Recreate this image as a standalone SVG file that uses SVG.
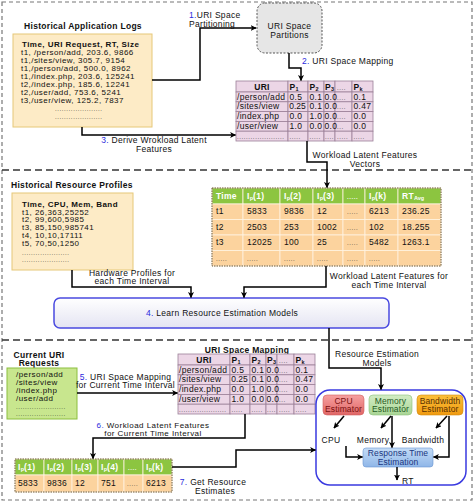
<svg xmlns="http://www.w3.org/2000/svg" width="474" height="504" viewBox="0 0 474 504">
<defs>
<marker id="ah" viewBox="0 0 10 10" refX="9" refY="5" markerWidth="6" markerHeight="6" orient="auto" markerUnits="userSpaceOnUse">
<path d="M0,0 L10,5 L0,10 L2.5,5 z" fill="#000"/>
</marker>
<linearGradient id="g4" x1="0" y1="0" x2="0" y2="1"><stop offset="0" stop-color="#ffffff"/><stop offset="1" stop-color="#e4e4f2"/></linearGradient>
<linearGradient id="gcpu" x1="0" y1="0" x2="0" y2="1"><stop offset="0" stop-color="#f6a0a0"/><stop offset="1" stop-color="#e06666"/></linearGradient>
<linearGradient id="gmem" x1="0" y1="0" x2="0" y2="1"><stop offset="0" stop-color="#d2ecc4"/><stop offset="1" stop-color="#a9d595"/></linearGradient>
<linearGradient id="gbw" x1="0" y1="0" x2="0" y2="1"><stop offset="0" stop-color="#fbbf3a"/><stop offset="1" stop-color="#f09a10"/></linearGradient>
<linearGradient id="grt" x1="0" y1="0" x2="0" y2="1"><stop offset="0" stop-color="#c4dcf6"/><stop offset="1" stop-color="#8fb6e8"/></linearGradient>
</defs>
<style>
text{font-family:"Liberation Sans",Arial,sans-serif;font-size:8.5px;letter-spacing:0.3px;fill:#111}
.bx{font-size:8px;letter-spacing:0.45px}
.d{font-size:6px;letter-spacing:0.6px}
.b{font-weight:bold}
.m{text-anchor:middle}
.n{fill:#2b2bdd}
.s{font-size:5.5px;letter-spacing:0}
.con path{fill:none;stroke:#000;stroke-width:1.5}
.arr{marker-end:url(#ah)}
.logbox{fill:#fdebc6;stroke:#e6c878;stroke-width:1}
.urit rect{fill:#ecd6e6;stroke:#9c8098;stroke-width:0.8}
.gh{fill:#8cc540;stroke:#fff3e0;stroke-width:0.8}
.gd{fill:#fcd39e;stroke:#fff3e0;stroke-width:0.8}
.wt{fill:#fff;font-weight:bold}
.div{stroke:#333;stroke-width:1.5;stroke-dasharray:7,4}
</style>

<!-- outer frame -->
<rect x="2" y="2" width="470" height="498" fill="none" stroke="#777" stroke-width="1.2" stroke-dasharray="4,3"/>
<line class="div" x1="2" y1="170" x2="472" y2="170"/>
<line class="div" x1="2" y1="340" x2="472" y2="340"/>

<!-- Section 1 -->
<g id="logs">
<text class="b m" x="83" y="29">Historical Application Logs</text>
<rect class="logbox" x="13" y="34" width="139" height="93"/>
<text class="b bx" x="22" y="46.5">Time, URI Request, RT, Size</text>
<text class="bx" x="21" y="54.5">t1, /person/add,  203.6,  9866</text>
<text class="bx" x="21" y="62.5">t1,/sites/view,  305.7,  9154</text>
<text class="bx" x="21" y="70.5">t1,/person/add,  500.0,  8962</text>
<text class="bx" x="21" y="78.5">t1,/index.php,  203.6,  125241</text>
<text class="bx" x="21" y="86.5">t2,/index.php, 185.6,  12241</text>
<text class="bx" x="21" y="94.5">t2,/user/add,  753.6,  5241</text>
<text class="bx" x="21" y="102.5">t3,/user/view,  125.2,  7837</text>
<text class="d" x="55" y="111">.....................</text>
<text class="d" x="55" y="119">.....................</text>
</g>

<g id="partitions">
<rect x="257" y="3" width="65" height="50" rx="8" fill="#e6e6e6" stroke="#555" stroke-width="1" stroke-dasharray="2,1.5"/>
<text class="m" x="289.5" y="28.5">URI Space</text>
<text class="m" x="289.5" y="37.5">Partitions</text>
</g>

<g id="uri-table-1" class="urit">
<rect x="236" y="81" width="52" height="11"/><rect x="288" y="81" width="20" height="11"/><rect x="308" y="81" width="16" height="11"/><rect x="324" y="81" width="11" height="11"/><rect x="335" y="81" width="17" height="11"/><rect x="352" y="81" width="21" height="11"/>
<rect x="236" y="92" width="52" height="9.8"/><rect x="288" y="92" width="20" height="9.8"/><rect x="308" y="92" width="16" height="9.8"/><rect x="324" y="92" width="11" height="9.8"/><rect x="335" y="92" width="17" height="9.8"/><rect x="352" y="92" width="21" height="9.8"/>
<rect x="236" y="101.8" width="52" height="9.8"/><rect x="288" y="101.8" width="20" height="9.8"/><rect x="308" y="101.8" width="16" height="9.8"/><rect x="324" y="101.8" width="11" height="9.8"/><rect x="335" y="101.8" width="17" height="9.8"/><rect x="352" y="101.8" width="21" height="9.8"/>
<rect x="236" y="111.6" width="52" height="9.8"/><rect x="288" y="111.6" width="20" height="9.8"/><rect x="308" y="111.6" width="16" height="9.8"/><rect x="324" y="111.6" width="11" height="9.8"/><rect x="335" y="111.6" width="17" height="9.8"/><rect x="352" y="111.6" width="21" height="9.8"/>
<rect x="236" y="121.4" width="52" height="9.8"/><rect x="288" y="121.4" width="20" height="9.8"/><rect x="308" y="121.4" width="16" height="9.8"/><rect x="324" y="121.4" width="11" height="9.8"/><rect x="335" y="121.4" width="17" height="9.8"/><rect x="352" y="121.4" width="21" height="9.8"/>
<rect x="236" y="131.2" width="52" height="9.8"/><rect x="288" y="131.2" width="20" height="9.8"/><rect x="308" y="131.2" width="16" height="9.8"/><rect x="324" y="131.2" width="11" height="9.8"/><rect x="335" y="131.2" width="17" height="9.8"/><rect x="352" y="131.2" width="21" height="9.8"/>
<text class="b m" x="262" y="89.5">URI</text>
<text class="b" x="289.5" y="89.5">P<tspan class="s" dy="1.5">1</tspan></text>
<text class="b" x="309.5" y="89.5">P<tspan class="s" dy="1.5">2</tspan></text>
<text class="b" x="325" y="89.5">P<tspan class="s" dy="1.5">3</tspan></text>
<text class="d" x="337" y="89.5">....</text>
<text class="b" x="353.5" y="89.5">P<tspan class="s" dy="1.5">k</tspan></text>
<text x="237" y="99.5">/person/add</text><text x="289.5" y="99.5">0.5</text><text x="309.5" y="99.5">0.1</text><text x="324.5" y="99.5">0.0</text><text class="d" x="337" y="99.5">....</text><text x="353.5" y="99.5">0.1</text>
<text x="237" y="109.3">/sites/view</text><text x="289.2" y="109.3" style="letter-spacing:0">0.25</text><text x="309.5" y="109.3">0.1</text><text x="324.5" y="109.3">0.0</text><text class="d" x="337" y="109.3">....</text><text x="353.5" y="109.3">0.47</text>
<text x="237" y="119.1">/index.php</text><text x="289.5" y="119.1">0.0</text><text x="309.5" y="119.1">1.0</text><text x="324.5" y="119.1">0.0</text><text class="d" x="337" y="119.1">....</text><text x="353.5" y="119.1">0.0</text>
<text x="237" y="128.9">/user/view</text><text x="289.5" y="128.9">1.0</text><text x="309.5" y="128.9">0.0</text><text x="324.5" y="128.9">0.0</text><text class="d" x="337" y="128.9">...</text><text x="353.5" y="128.9">0.0</text>
<text class="d" x="237" y="138.5">.....................</text><text class="d" x="289.5" y="138.5">.....</text><text class="d" x="309.5" y="138.5">.....</text><text class="d" x="325" y="138.5">....</text><text class="d" x="337" y="138.5">.....</text><text class="d" x="353.5" y="138.5">.....</text>
</g>

<!-- Section 2 -->
<g id="resource-profiles">
<text class="b" x="11" y="188">Historical Resource Profiles</text>
<rect class="logbox" x="12" y="193" width="121" height="77"/>
<text class="b bx" x="22" y="206.5">Time, CPU, Mem, Band</text>
<text class="bx" x="22" y="214.5">t1, 26,363,25252</text>
<text class="bx" x="22" y="222.3">t2, 99,600,5985</text>
<text class="bx" x="22" y="230.1">t3, 85,150,985741</text>
<text class="bx" x="22" y="237.9">t4, 10,10,17111</text>
<text class="bx" x="22" y="245.7">t5, 70,50,1250</text>
<text class="d" x="22" y="254.5">.....................</text>
<text class="d" x="22" y="262">.....................</text>
</g>

<g id="time-table">
<rect class="gh" x="212" y="188" width="31" height="16"/><rect class="gh" x="243" y="188" width="37" height="16"/><rect class="gh" x="280" y="188" width="33" height="16"/><rect class="gh" x="313" y="188" width="30" height="16"/><rect class="gh" x="343" y="188" width="22" height="16"/><rect class="gh" x="365" y="188" width="33" height="16"/><rect class="gh" x="398" y="188" width="43" height="16"/>
<rect class="gd" x="212" y="204" width="31" height="15.5"/><rect class="gd" x="243" y="204" width="37" height="15.5"/><rect class="gd" x="280" y="204" width="33" height="15.5"/><rect class="gd" x="313" y="204" width="30" height="15.5"/><rect class="gd" x="343" y="204" width="22" height="15.5"/><rect class="gd" x="365" y="204" width="33" height="15.5"/><rect class="gd" x="398" y="204" width="43" height="15.5"/>
<rect class="gd" x="212" y="219.5" width="31" height="15.5"/><rect class="gd" x="243" y="219.5" width="37" height="15.5"/><rect class="gd" x="280" y="219.5" width="33" height="15.5"/><rect class="gd" x="313" y="219.5" width="30" height="15.5"/><rect class="gd" x="343" y="219.5" width="22" height="15.5"/><rect class="gd" x="365" y="219.5" width="33" height="15.5"/><rect class="gd" x="398" y="219.5" width="43" height="15.5"/>
<rect class="gd" x="212" y="235" width="31" height="15.5"/><rect class="gd" x="243" y="235" width="37" height="15.5"/><rect class="gd" x="280" y="235" width="33" height="15.5"/><rect class="gd" x="313" y="235" width="30" height="15.5"/><rect class="gd" x="343" y="235" width="22" height="15.5"/><rect class="gd" x="365" y="235" width="33" height="15.5"/><rect class="gd" x="398" y="235" width="43" height="15.5"/>
<rect class="gd" x="212" y="250.5" width="31" height="15.5"/><rect class="gd" x="243" y="250.5" width="37" height="15.5"/><rect class="gd" x="280" y="250.5" width="33" height="15.5"/><rect class="gd" x="313" y="250.5" width="30" height="15.5"/><rect class="gd" x="343" y="250.5" width="22" height="15.5"/><rect class="gd" x="365" y="250.5" width="33" height="15.5"/><rect class="gd" x="398" y="250.5" width="43" height="15.5"/>
<rect x="212" y="188" width="229" height="78" fill="none" stroke="#6b5a3a" stroke-width="1" stroke-dasharray="1.5,1"/>
<text class="wt" x="216" y="198.5">Time</text>
<text class="wt" x="247" y="198.5">I<tspan class="s" dy="1.5">p</tspan><tspan dy="-1.5">(1)</tspan></text>
<text class="wt" x="284" y="198.5">I<tspan class="s" dy="1.5">p</tspan><tspan dy="-1.5">(2)</tspan></text>
<text class="wt" x="317" y="198.5">I<tspan class="s" dy="1.5">p</tspan><tspan dy="-1.5">(3)</tspan></text>
<text class="wt d" x="347" y="198.5">.....</text>
<text class="wt" x="369" y="198.5">I<tspan class="s" dy="1.5">p</tspan><tspan dy="-1.5">(k)</tspan></text>
<text class="wt" x="402" y="198.5">RT<tspan class="s" dy="1.5">Avg</tspan></text>
<text x="216" y="214.3">t1</text><text x="247" y="214.3">5833</text><text x="284" y="214.3">9836</text><text x="317" y="214.3">12</text><text class="d" x="347" y="214.3">.....</text><text x="369" y="214.3">6213</text><text x="402" y="214.3">236.25</text>
<text x="216" y="229.8">t2</text><text x="247" y="229.8">2503</text><text x="284" y="229.8">253</text><text x="317" y="229.8">1002</text><text class="d" x="347" y="229.8">.....</text><text x="369" y="229.8">102</text><text x="402" y="229.8">18.255</text>
<text x="216" y="245.3">t3</text><text x="247" y="245.3">12025</text><text x="284" y="245.3">100</text><text x="317" y="245.3">25</text><text class="d" x="347" y="245.3">.....</text><text x="369" y="245.3">5482</text><text x="402" y="245.3">1263.1</text>
<text class="d" x="216" y="260.8">.....</text><text class="d" x="247" y="260.8">.....</text><text class="d" x="284" y="260.8">.....</text><text class="d" x="317" y="260.8">.....</text><text class="d" x="347" y="260.8">.....</text><text class="d" x="369" y="260.8">.....</text>
</g>

<g id="learn-models">
<rect x="54" y="298" width="335" height="30" rx="6" fill="url(#g4)" stroke="#4a4ae0" stroke-width="1.5"/>
<text class="m" x="222" y="316"><tspan class="n">4.</tspan> Learn Resource Estimation Models</text>
</g>

<!-- Section 3 -->
<g id="current-uri">
<text class="b m" x="39" y="357.5">Current URI</text>
<text class="b m" x="39" y="366">Requests</text>
<rect x="7" y="368" width="70" height="51" fill="#c8e68e" stroke="#8cbf3f" stroke-width="1"/>
<text class="bx" x="16" y="376.5">/person/add</text>
<text class="bx" x="16" y="384.5">/sites/view</text>
<text class="bx" x="16" y="392.5">/index.php</text>
<text class="bx" x="16" y="400.5">/user/add</text>
<text class="d" x="16" y="409">......................</text>
<text class="d" x="16" y="416">......................</text>
</g>

<g id="uri-table-2" class="urit">
<text class="b m" x="247" y="352.5">URI Space Mapping</text>
<rect x="178" y="354" width="52" height="11"/><rect x="230" y="354" width="20" height="11"/><rect x="250" y="354" width="16" height="11"/><rect x="266" y="354" width="11" height="11"/><rect x="277" y="354" width="17" height="11"/><rect x="294" y="354" width="21" height="11"/>
<rect x="178" y="365" width="52" height="9.8"/><rect x="230" y="365" width="20" height="9.8"/><rect x="250" y="365" width="16" height="9.8"/><rect x="266" y="365" width="11" height="9.8"/><rect x="277" y="365" width="17" height="9.8"/><rect x="294" y="365" width="21" height="9.8"/>
<rect x="178" y="374.8" width="52" height="9.8"/><rect x="230" y="374.8" width="20" height="9.8"/><rect x="250" y="374.8" width="16" height="9.8"/><rect x="266" y="374.8" width="11" height="9.8"/><rect x="277" y="374.8" width="17" height="9.8"/><rect x="294" y="374.8" width="21" height="9.8"/>
<rect x="178" y="384.6" width="52" height="9.8"/><rect x="230" y="384.6" width="20" height="9.8"/><rect x="250" y="384.6" width="16" height="9.8"/><rect x="266" y="384.6" width="11" height="9.8"/><rect x="277" y="384.6" width="17" height="9.8"/><rect x="294" y="384.6" width="21" height="9.8"/>
<rect x="178" y="394.4" width="52" height="9.8"/><rect x="230" y="394.4" width="20" height="9.8"/><rect x="250" y="394.4" width="16" height="9.8"/><rect x="266" y="394.4" width="11" height="9.8"/><rect x="277" y="394.4" width="17" height="9.8"/><rect x="294" y="394.4" width="21" height="9.8"/>
<rect x="178" y="404.2" width="52" height="9.8"/><rect x="230" y="404.2" width="20" height="9.8"/><rect x="250" y="404.2" width="16" height="9.8"/><rect x="266" y="404.2" width="11" height="9.8"/><rect x="277" y="404.2" width="17" height="9.8"/><rect x="294" y="404.2" width="21" height="9.8"/>
<text class="b m" x="204" y="362.5">URI</text>
<text class="b" x="231.5" y="362.5">P<tspan class="s" dy="1.5">1</tspan></text>
<text class="b" x="251.5" y="362.5">P<tspan class="s" dy="1.5">2</tspan></text>
<text class="b" x="267" y="362.5">P<tspan class="s" dy="1.5">3</tspan></text>
<text class="d" x="279" y="362.5">....</text>
<text class="b" x="295.5" y="362.5">P<tspan class="s" dy="1.5">k</tspan></text>
<text x="179" y="372.5">/person/add</text><text x="231.5" y="372.5">0.5</text><text x="251.5" y="372.5">0.1</text><text x="266.5" y="372.5">0.0</text><text class="d" x="279" y="372.5">....</text><text x="295.5" y="372.5">0.1</text>
<text x="179" y="382.3">/sites/view</text><text x="231.2" y="382.3" style="letter-spacing:0">0.25</text><text x="251.5" y="382.3">0.1</text><text x="266.5" y="382.3">0.0</text><text class="d" x="279" y="382.3">....</text><text x="295.5" y="382.3">0.47</text>
<text x="179" y="392.1">/index.php</text><text x="231.5" y="392.1">0.0</text><text x="251.5" y="392.1">1.0</text><text x="266.5" y="392.1">0.0</text><text class="d" x="279" y="392.1">....</text><text x="295.5" y="392.1">0.0</text>
<text x="179" y="401.9">/user/view</text><text x="231.5" y="401.9">1.0</text><text x="251.5" y="401.9">0.0</text><text x="266.5" y="401.9">0.0</text><text class="d" x="279" y="401.9">...</text><text x="295.5" y="401.9">0.0</text>
<text class="d" x="179" y="411.5">.....................</text><text class="d" x="231.5" y="411.5">.....</text><text class="d" x="251.5" y="411.5">.....</text><text class="d" x="267" y="411.5">....</text><text class="d" x="279" y="411.5">.....</text><text class="d" x="295.5" y="411.5">.....</text>
</g>

<g id="current-features">
<rect class="gh" x="15" y="459" width="29" height="16"/><rect class="gh" x="44" y="459" width="28" height="16"/><rect class="gh" x="72" y="459" width="26" height="16"/><rect class="gh" x="98" y="459" width="26" height="16"/><rect class="gh" x="124" y="459" width="19" height="16"/><rect class="gh" x="143" y="459" width="29" height="16"/>
<rect class="gd" x="15" y="475" width="29" height="17"/><rect class="gd" x="44" y="475" width="28" height="17"/><rect class="gd" x="72" y="475" width="26" height="17"/><rect class="gd" x="98" y="475" width="26" height="17"/><rect class="gd" x="124" y="475" width="19" height="17"/><rect class="gd" x="143" y="475" width="29" height="17"/>
<rect x="15" y="459" width="157" height="33" fill="none" stroke="#6b5a3a" stroke-width="1" stroke-dasharray="1.5,1"/>
<text class="wt" x="18" y="469.5">I<tspan class="s" dy="1.5">p</tspan><tspan dy="-1.5">(1)</tspan></text>
<text class="wt" x="47" y="469.5">I<tspan class="s" dy="1.5">p</tspan><tspan dy="-1.5">(2)</tspan></text>
<text class="wt" x="75" y="469.5">I<tspan class="s" dy="1.5">p</tspan><tspan dy="-1.5">(3)</tspan></text>
<text class="wt" x="101" y="469.5">I<tspan class="s" dy="1.5">p</tspan><tspan dy="-1.5">(4)</tspan></text>
<text class="wt d" x="128" y="469.5">....</text>
<text class="wt" x="146" y="469.5">I<tspan class="s" dy="1.5">p</tspan><tspan dy="-1.5">(k)</tspan></text>
<text x="18" y="486">5833</text><text x="47" y="486">9836</text><text x="75" y="486">12</text><text x="101" y="486">751</text><text class="d" x="127" y="486">.....</text><text x="146" y="486">6213</text>
</g>

<g id="estimators">
<rect x="316" y="390" width="150" height="95" rx="14" fill="#fff" stroke="#3a3ae0" stroke-width="1.5"/>
<rect x="323" y="395" width="41" height="20" rx="4" fill="url(#gcpu)" stroke="#d06060" stroke-width="0.6"/>
<text class="m" x="343.5" y="403.5" style="fill:#7a1010;letter-spacing:0.1px">CPU</text>
<text class="m" x="343.5" y="412" style="fill:#7a1010;letter-spacing:0.1px">Estimator</text>
<rect x="369" y="395" width="43" height="20" rx="4" fill="url(#gmem)" stroke="#8cbf7a" stroke-width="0.6"/>
<text class="m" x="390.5" y="403.5" style="fill:#245a24;letter-spacing:0.1px">Memory</text>
<text class="m" x="390.5" y="412" style="fill:#245a24;letter-spacing:0.1px">Estimator</text>
<rect x="417" y="395" width="46" height="20" rx="4" fill="url(#gbw)" stroke="#d08a10" stroke-width="0.6"/>
<text class="m" x="440" y="403.5" style="fill:#5a3000;letter-spacing:0.1px">Bandwidth</text>
<text class="m" x="440" y="412" style="fill:#5a3000;letter-spacing:0.1px">Estimator</text>
<text class="m" x="331" y="442.5">CPU</text>
<text class="m" x="373" y="442.5">Memory</text>
<text class="m" x="423" y="442.5">Bandwidth</text>
<rect x="363" y="448" width="70" height="19" rx="3" fill="url(#grt)" stroke="#6a96d0" stroke-width="0.6"/>
<text class="m" x="398" y="456" style="fill:#1a3680;letter-spacing:0.1px">Response Time</text>
<text class="m" x="398" y="464.5" style="fill:#1a3680;letter-spacing:0.1px">Estimation</text>
<text x="402" y="484">RT</text>
</g>

<g id="connectors" class="con">
<path class="arr" d="M152,80 H200 V28 H256"/>
<path class="arr" d="M289,53 V68 H301 V80.5"/>
<path class="arr" d="M82,127 V135 H235.5"/>
<path class="arr" d="M307,141 V162 H327 V187.5"/>
<path class="arr" d="M72,270 V287 H191 V297.5"/>
<path class="arr" d="M326,266 V287 H244 V297.5"/>
<path class="arr" d="M329,328 V368 H381 V389.5"/>
<path class="arr" d="M77,393 H177.5"/>
<path class="arr" d="M245,414 V438 H93 V458.5"/>
<path class="arr" d="M172,467 H236 V450 H315.5"/>
<path class="arr" d="M344,416 L334,428"/>
<path class="arr" d="M391,416 L381,428"/>
<path class="arr" d="M447,416 L436,428"/>
<path class="arr" d="M392,416 V447.5"/>
<path class="arr" d="M346,446 V457 H362.5"/>
<path class="arr" d="M449,416 V457 H433.5"/>
<path class="arr" d="M397,467 V480"/>
</g>

<g id="labels">
<text x="189" y="18"><tspan class="n">1.</tspan>URI Space</text>
<text x="189" y="27">Partitioning</text>
<text x="302" y="64"><tspan class="n">2.</tspan> URI Space Mapping</text>
<text class="m" x="154" y="143"><tspan class="n">3.</tspan> Derive Wrokload Latent</text>
<text class="m" x="154" y="151.5">Features</text>
<text class="m" x="365" y="158">Workload Latent Features</text>
<text class="m" x="365" y="166.5">Vectors</text>
<text class="m" x="132" y="275.5">Hardware Profiles for</text>
<text class="m" x="132" y="284">each Time Interval</text>
<text class="m" x="389" y="279">Workload Latent Features for</text>
<text class="m" x="389" y="287.5">each Time Interval</text>
<text class="m" x="377" y="357">Resource Estimation</text>
<text class="m" x="377" y="365.5">Models</text>
<text class="m" x="125.5" y="379.5"><tspan class="n">5.</tspan> URI Space Mapping</text>
<text class="m" x="125.5" y="388">for Current Time Interval</text>
<text class="m bx" x="153" y="427.5"><tspan class="n">6.</tspan> Workload Latent Features</text>
<text class="m bx" x="153" y="435.5">for Current Time Interval</text>
<text class="m" x="213" y="485"><tspan class="n">7.</tspan> Get Resource</text>
<text class="m" x="215" y="493.5">Estimates</text>
</g>
</svg>
